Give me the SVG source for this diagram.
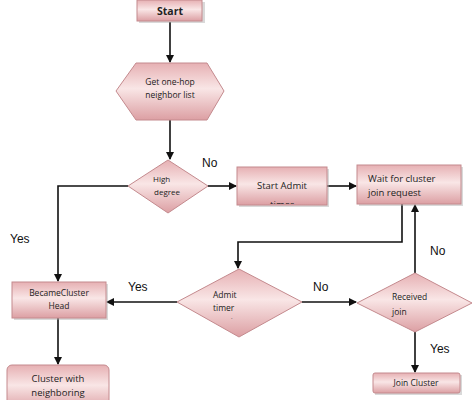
<svg xmlns="http://www.w3.org/2000/svg" width="474" height="402" viewBox="0 0 474 402">
<style>
.n{fill:url(#g);stroke:#c48a8e;stroke-width:1}
.t{font-family:"Open Sans","Liberation Sans",sans-serif;font-size:9px;fill:#222}
.c{text-anchor:middle}
.l{font-family:"Liberation Sans",Arial,sans-serif;font-size:12px;fill:#111}
.e{fill:none;stroke:#111;stroke-width:1.6}
.s{fill:#aaa;opacity:.45}
</style>
<defs>
<linearGradient id="g" x1="0" y1="0" x2="0" y2="1">
<stop offset="0" stop-color="#e6b0b3"/>
<stop offset="0.45" stop-color="#f9e6e6"/>
<stop offset="1" stop-color="#dc9fa3"/>
</linearGradient>
<marker id="a" markerWidth="8" markerHeight="8" refX="7" refY="4" orient="auto" markerUnits="userSpaceOnUse">
<path d="M0,0 L8,4 L0,8 z" fill="#111"/>
</marker>
<clipPath id="c1"><rect x="237" y="167" width="90" height="37"/></clipPath>
<clipPath id="c2"><rect x="0" y="0" width="474" height="400"/></clipPath>
</defs>
<g id="connectors">
<path class="e" d="M170,22 V62" marker-end="url(#a)"/>
<path class="e" d="M170,120 V159" marker-end="url(#a)"/>
<path class="e" d="M208,186 H236" marker-end="url(#a)"/>
<path class="e" d="M327,186 H356" marker-end="url(#a)"/>
<path class="e" d="M128,186 H58 V281" marker-end="url(#a)"/>
<path class="e" d="M402,204 V242 H238 V268" marker-end="url(#a)"/>
<path class="e" d="M415,273 V205" marker-end="url(#a)"/>
<path class="e" d="M302,302 H356" marker-end="url(#a)"/>
<path class="e" d="M177,302 H107" marker-end="url(#a)"/>
<path class="e" d="M58,318 V364" marker-end="url(#a)"/>
<path class="e" d="M415,332 V372" marker-end="url(#a)"/>
</g>
<g id="labels">
<text class="l" x="202" y="167">No</text>
<text class="l" x="10" y="243">Yes</text>
<text class="l" x="128" y="291">Yes</text>
<text class="l" x="313" y="291">No</text>
<text class="l" x="430" y="255">No</text>
<text class="l" x="430" y="353">Yes</text>
</g>
<g id="start">
<rect class="s" x="139" y="2" width="66" height="21"/>
<rect class="n" x="137" y="0" width="65" height="21"/>
<text class="t c" x="170" y="15" style="font-weight:bold;font-size:10.5px">Start</text>
</g>
<g id="getlist">
<polygon class="n" points="116,91 136,63 207,63 224,91 207,120 136,120"/>
<text class="t c" x="170" y="85" style="font-size:8.5px">Get one-hop</text>
<text class="t c" x="170" y="98" style="font-size:8.5px">neighbor list</text>
</g>
<g id="highdegree">
<polygon class="n" points="128,186 168,160 208,186 168,213"/>
<text class="t" x="153" y="182" style="font-size:8px">High</text>
<text class="t" x="154" y="195" style="font-size:8px">degree</text>
</g>
<g id="startadmit">
<rect class="s" x="239" y="169" width="90" height="38"/>
<rect class="n" x="237" y="167" width="90" height="38"/>
<g clip-path="url(#c1)">
<text class="t c" x="282" y="189" style="font-size:9.5px">Start Admit</text>
<text class="t c" x="282" y="208" style="font-size:9.5px">timer</text>
</g>
</g>
<g id="wait">
<rect class="s" x="359" y="167" width="104" height="39"/>
<rect class="n" x="357" y="165" width="104" height="39"/>
<text class="t" x="368" y="182" style="font-size:9.5px">Wait for cluster</text>
<text class="t" x="368" y="196" style="font-size:9.5px">join request</text>
</g>
<g id="admittimer">
<polygon class="n" points="177,302 239,269 302,302 239,337"/>
<text class="t" x="213" y="298" style="font-size:8.5px">Admit</text>
<text class="t" x="213" y="311" style="font-size:8.5px">timer</text>
<text class="t" x="231" y="319" style="font-size:6px">.</text>
</g>
<g id="received">
<polygon class="n" points="357,303 415,273 472,303 415,332"/>
<text class="t" x="392" y="300" style="font-size:8.5px">Received</text>
<text class="t" x="392" y="315" style="font-size:8.5px">join</text>
</g>
<g id="clusterhead">
<rect class="s" x="14" y="284" width="94" height="36"/>
<rect class="n" x="12" y="282" width="94" height="36"/>
<text class="t c" x="59" y="296" style="font-size:8.5px">BecameCluster</text>
<text class="t c" x="59" y="309" style="font-size:8.5px">Head</text>
</g>
<g id="clusterwith" clip-path="url(#c2)">
<rect class="n" x="7" y="365" width="102" height="45" rx="5"/>
<text class="t c" x="58" y="382" style="font-size:9.5px">Cluster with</text>
<text class="t c" x="58" y="396" style="font-size:9.5px">neighboring</text>
</g>
<g id="joincluster">
<rect class="s" x="375" y="375" width="87" height="20"/>
<rect class="n" x="373" y="373" width="87" height="20" rx="2"/>
<text class="t c" x="416" y="386" style="font-size:8.5px">Join Cluster</text>
</g>
</svg>
